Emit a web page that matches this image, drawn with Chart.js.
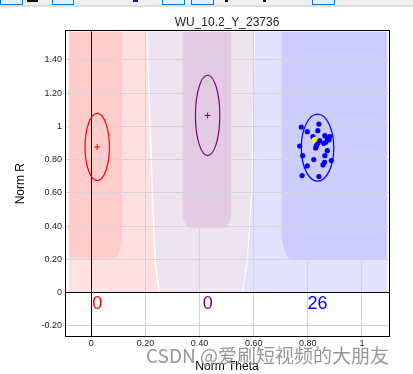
<!DOCTYPE html>
<html>
<head>
<meta charset="utf-8">
<script src="https://cdn.jsdelivr.net/npm/chart.js@4.4.1/dist/chart.umd.min.js"></script>
<style>
    html, body { margin: 0; padding: 0; background: #fff; }
    #wrap { position: relative; width: 413px; height: 374px; overflow: hidden; }
    #toolbar { position: absolute; left: 0; top: 0; width: 413px; height: 5px; background: #f0f0f0; border-bottom: 2px solid #dedede; }
    .btn { position: absolute; top: -6px; height: 11px; border: 1px solid #0078d7; box-sizing: border-box; background: #e5f1fb; }
    .ico { position: absolute; top: 0; height: 2px; background: #111; }
    #mark { position: absolute; left: 146px; top: 345px; font-size: 19px; line-height: 19px; font-family: "Noto Sans CJK SC", sans-serif; color: rgba(125,125,125,0.8); text-shadow: 0 0 1px #fff; white-space: nowrap; }
</style>
</head>
<body>
<div id="wrap">
    <canvas id="chart" width="413" height="374"></canvas>
    <div id="toolbar">
        <div class="btn" style="left:0;width:23px"></div>
        <div class="ico" style="left:27px;width:11px"></div>
        <div class="btn" style="left:52px;width:22px"></div>
        <div class="ico" style="left:133px;width:5px;background:#1a1a8c"></div>
        <div class="btn" style="left:162px;width:23px"></div>
        <div class="btn" style="left:191px;width:23px"></div>
        <div class="ico" style="left:225px;width:3px"></div>
        <div class="ico" style="left:263px;width:3px"></div>
        <div class="btn" style="left:312px;width:23px"></div>
    </div>
    <div id="mark">CSDN @爱刷短视频的大朋友</div>
</div>
<script>
const xTicks = [0, 0.2, 0.4, 0.6, 0.8, 1];
const yTicks = [-0.2, 0, 0.2, 0.4, 0.6, 0.8, 1, 1.2, 1.4];

// clusters
const groupColors = ["#ff0000", "#800080", "#0000ff"];
const groupCounts = [0, 0, 26];
const groupCenterX = [0.022, 0.43, 0.836];
const groupCenterY = [0.876, 1.066, 0.872];
const ellipseRadiusX = [0.045, 0.045, 0.06];
const ellipseRadiusY = [0.202, 0.242, 0.202];
const countY = -0.07;

// blue samples
const pointsX = [0.841, 0.776, 0.798, 0.837, 0.819, 0.863, 0.881, 0.872, 0.844, 0.866, 0.837, 0.832, 0.829,
                 0.770, 0.872, 0.781, 0.863, 0.822, 0.887, 0.862, 0.856, 0.798, 0.779, 0.841, 0.878, 0.859];
const pointsY = [1.014, 0.996, 0.968, 0.974, 0.938, 0.944, 0.938, 0.924, 0.914, 0.904, 0.898, 0.884, 0.870,
                 0.882, 0.854, 0.824, 0.824, 0.800, 0.794, 0.784, 0.768, 0.762, 0.704, 0.698, 0.918, 0.898];
const selectedX = [0.825];
const selectedY = [0.92];

// decision map: boundaries (Norm Theta) at these Norm R levels
const edgeR = [1.572, 0.615, 0.195, 0];
const redPurpleEdge = [0.206, 0.225, 0.236, 0.251];
const purpleBlueEdge = [0.603, 0.593, 0.577, 0.558];
const mapLeft = -0.083, mapRight = 1.093;
// dense cores
const coreLeft = [-0.083, 0.337, 0.703];
const coreRight = [0.114, 0.517, 1.093];
const coreBottom = [0.205, 0.39, 0.2];

const lightFill = ["#ffe1e1", "#eee3f0", "#e2e2ff"];
const coreFill = ["#ffcbcb", "#e3cce3", "#ccccff"];
const coreCorners = [[2, 15, 7, 28], [8, 16, 8, 16], [10, 30, 0, 0]];

function fmt(v) {
    const r = Math.round(v * 100) / 100;
    if (r === 0) return "0";
    if (r === 1) return "1";
    return r.toFixed(2);
}

const mapPlugin = {
    id: "map",
    beforeDraw(chart) {
        const { ctx, scales: { x, y } } = chart;
        const px = v => x.getPixelForValue(v);
        const py = v => y.getPixelForValue(v);
        ctx.save();
        const a = chart.chartArea;
        ctx.beginPath();
        ctx.rect(a.left, a.top, a.right - a.left, a.bottom - a.top);
        ctx.clip();

        // light zones
        const zones = [
            [edgeR.map(() => mapLeft), redPurpleEdge],
            [redPurpleEdge, purpleBlueEdge],
            [purpleBlueEdge, edgeR.map(() => mapRight)]
        ];
        zones.forEach((z, i) => {
            ctx.beginPath();
            edgeR.forEach((r, k) => ctx.lineTo(px(z[0][k]), py(r)));
            for (let k = edgeR.length - 1; k >= 0; k--) ctx.lineTo(px(z[1][k]), py(edgeR[k]));
            ctx.closePath();
            ctx.fillStyle = lightFill[i];
            ctx.fill();
        });
        // white seams
        ctx.strokeStyle = "#ffffff";
        [[redPurpleEdge, 1.6], [purpleBlueEdge, 1]].forEach(([e, w]) => {
            ctx.lineWidth = w;
            ctx.beginPath();
            edgeR.forEach((r, k) => ctx.lineTo(px(e[k]), py(r)));
            ctx.stroke();
        });

        // cores
        coreLeft.forEach((l, i) => {
            const x1 = px(l), x2 = px(coreRight[i]);
            const top = a.top, bot = py(coreBottom[i]);
            const [rxl, ryl, rxr, ryr] = coreCorners[i];
            ctx.beginPath();
            ctx.moveTo(x1, top);
            if (rxl > 0) {
                ctx.lineTo(x1, bot - ryl);
                ctx.ellipse(x1 + rxl, bot - ryl, rxl, ryl, 0, Math.PI, Math.PI / 2, true);
            } else ctx.lineTo(x1, bot);
            if (rxr > 0) {
                ctx.lineTo(x2 - rxr, bot);
                ctx.ellipse(x2 - rxr, bot - ryr, rxr, ryr, 0, Math.PI / 2, 0, true);
            } else ctx.lineTo(x2, bot);
            ctx.lineTo(x2, top);
            ctx.closePath();
            ctx.fillStyle = coreFill[i];
            ctx.fill();
        });
        ctx.restore();
    },
    beforeDatasetsDraw(chart) {
        const { ctx, scales: { x, y } } = chart;
        const a = chart.chartArea;
        const px = v => x.getPixelForValue(v);
        const py = v => y.getPixelForValue(v);
        ctx.save();
        ctx.strokeStyle = "#000";
        ctx.lineWidth = 1;
        const x0 = Math.round(px(0)) + 0.5, y0 = Math.round(py(0)) + 0.5;
        ctx.beginPath();
        ctx.moveTo(x0, a.top); ctx.lineTo(x0, a.bottom);
        ctx.moveTo(a.left, y0); ctx.lineTo(a.right, y0);
        ctx.stroke();
        ctx.strokeRect(Math.round(a.left) + 0.5, Math.round(a.top) - 0.5, Math.round(a.right - a.left), Math.round(a.bottom - a.top) + 1);

        groupColors.forEach((c, i) => {
            const cx = px(groupCenterX[i]), cy = py(groupCenterY[i]);
            const rx = Math.abs(px(ellipseRadiusX[i]) - px(0));
            const ry = Math.abs(py(ellipseRadiusY[i]) - py(0));
            ctx.strokeStyle = c;
            ctx.lineWidth = 1.2;
            ctx.beginPath();
            ctx.ellipse(cx, cy, rx, ry, 0, 0, Math.PI * 2);
            ctx.stroke();
            if (groupCounts[i] === 0) {
                ctx.lineWidth = 1;
                ctx.beginPath();
                ctx.moveTo(cx - 3, cy); ctx.lineTo(cx + 3, cy);
                ctx.moveTo(cx, cy - 3); ctx.lineTo(cx, cy + 3);
                ctx.stroke();
            }
            ctx.fillStyle = c;
            ctx.font = "18px 'Liberation Sans', Arial, sans-serif";
            ctx.textAlign = "center";
            ctx.textBaseline = "middle";
            ctx.fillText(String(groupCounts[i]), cx, py(countY));
        });
        ctx.restore();
    }
};

const tickFont = { family: "'Liberation Sans', Arial, sans-serif", size: 9 };
const titleFont = { family: "'Liberation Sans', Arial, sans-serif", size: 12 };

new Chart(document.getElementById("chart"), {
    type: "scatter",
    data: {
        datasets: [
            {
                data: pointsX.map((v, i) => ({ x: v, y: pointsY[i] })),
                order: 2,
                pointRadius: 2.6, pointBackgroundColor: "#0000ff", pointBorderWidth: 0
            },
            {
                data: selectedX.map((v, i) => ({ x: v, y: selectedY[i] })),
                order: 1,
                pointRadius: 2.6, pointBackgroundColor: "#ffff00", pointBorderWidth: 0
            }
        ]
    },
    options: {
        responsive: false,
        animation: false,
        layout: { padding: { left: 0, right: 24, top: 0, bottom: 0 } },
        plugins: {
            legend: { display: false },
            tooltip: { enabled: false },
            title: {
                display: true, text: "WU_10.2_Y_23736", fullSize: false,
                font: { ...titleFont, weight: "normal" }, color: "#222",
                padding: { top: 15, bottom: 2 }
            }
        },
        scales: {
            x: {
                type: "linear", min: -0.097, max: 1.1,
                afterFit: s => { s.height = 38; },
                afterBuildTicks: s => { s.ticks = xTicks.map(v => ({ value: v })); },
                grid: { color: "#d4d4d4", tickLength: 2 },
                border: { display: false },
                ticks: { font: tickFont, color: "#222", padding: 0, maxRotation: 0, callback: v => fmt(v) },
                title: { display: true, text: "Norm Theta", font: titleFont, color: "#000", padding: 0 }
            },
            y: {
                type: "linear", min: -0.262, max: 1.572,
                afterFit: s => { s.width = 65; },
                afterBuildTicks: s => { s.ticks = yTicks.map(v => ({ value: v })); },
                grid: { color: "#d4d4d4", drawTicks: false },
                border: { display: false },
                ticks: { font: tickFont, color: "#222", padding: 3, callback: v => fmt(v) },
                title: { display: true, text: "Norm R", font: titleFont, color: "#000", padding: { top: 13, bottom: 0 } }
            }
        }
    },
    plugins: [mapPlugin]
});
</script>
</body>
</html>
